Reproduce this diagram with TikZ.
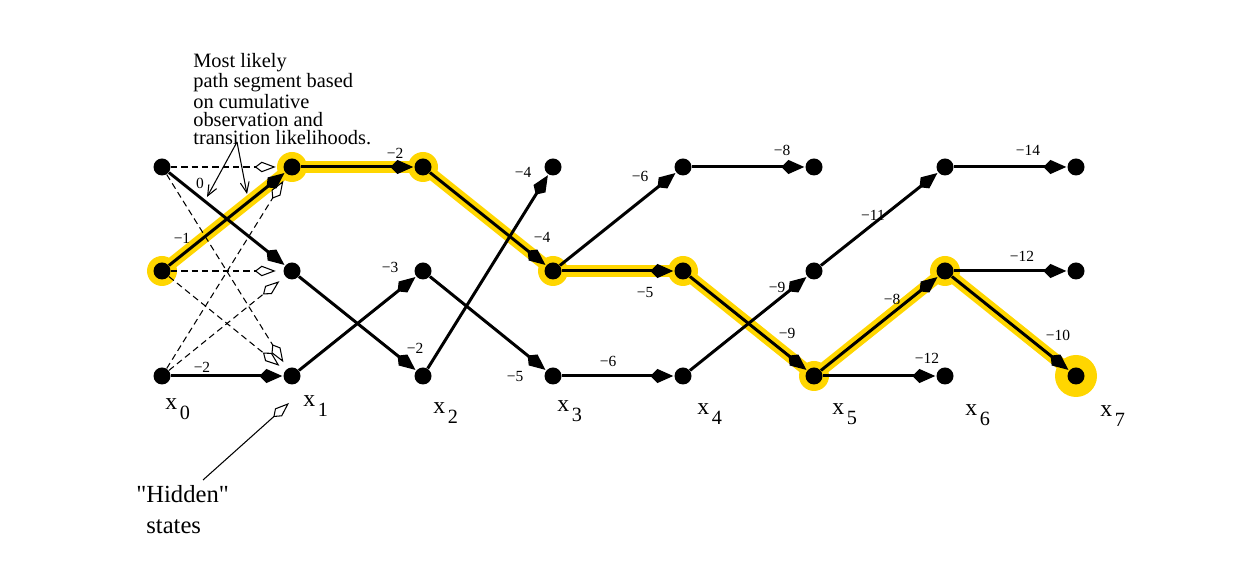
\documentclass[tikz,border=0pt]{standalone}
\usepackage{fontspec}
\setmainfont{Liberation Serif}
\usetikzlibrary{arrows.meta,backgrounds}
\definecolor{gold}{RGB}{255,214,0}
\newcommand{\stage}[1]{x\kern1.5pt\raisebox{-5.5pt}{\fontsize{11.5}{13}\selectfont #1}}
\tikzset{
  state/.style={circle,fill=black,inner sep=0pt,minimum size=0.34cm},
  hop/.style={line width=1.7pt,-{Kite[length=13pt,width=8pt,inset=4pt]},shorten >=0.5pt},
  guess/.style={line width=0.6pt,dash pattern=on 3.6pt off 2.3pt,
    -{Kite[open,length=12pt,width=6pt,inset=4pt]},shorten >=4.2pt},
  pointer/.style={line width=0.6pt},
  best/.style={line width=6.8pt,draw=gold,line join=round},
  cost/.style={font=\fontsize{8.8}{9}\selectfont,inner sep=0pt},
  stagelbl/.style={anchor=base west,inner sep=0pt,font=\fontsize{13.5}{15}\selectfont},
}
\begin{document}
\begin{tikzpicture}
      \useasboundingbox (0,0) rectangle (24.92,11.56);
      % trellis states: t = top, m = middle, b = bottom row
      \draw
        (3.24,8.22) node[state] (t0){}
        (3.24,6.14) node[state] (m0){}
        (3.24,4.04) node[state] (b0){}
        (5.84,8.22) node[state] (t1){}
        (5.84,6.14) node[state] (m1){}
        (5.84,4.04) node[state] (b1){}
        (8.46,8.22) node[state] (t2){}
        (8.46,6.14) node[state] (m2){}
        (8.46,4.04) node[state] (b2){}
        (11.06,8.22) node[state] (t3){}
        (11.06,6.14) node[state] (m3){}
        (11.06,4.04) node[state] (b3){}
        (13.66,8.22) node[state] (t4){}
        (13.66,6.14) node[state] (m4){}
        (13.66,4.04) node[state] (b4){}
        (16.28,8.22) node[state] (t5){}
        (16.28,6.14) node[state] (m5){}
        (16.28,4.04) node[state] (b5){}
        (18.90,8.22) node[state] (t6){}
        (18.90,6.14) node[state] (m6){}
        (18.90,4.04) node[state] (b6){}
        (21.52,8.22) node[state] (t7){}
        (21.52,6.14) node[state] (m7){}
        (21.52,4.04) node[state] (b7){};
      % most likely path
      \begin{scope}[on background layer]
        \draw[best] (m0.center) -- (t1.center) -- (t2.center) -- (m3.center)
          -- (m4.center) -- (b5.center) -- (m6.center) -- (b7.center);
        \fill[gold] (m0) circle (0.30) (t1) circle (0.30) (t2) circle (0.30)
          (m3) circle (0.30) (m4) circle (0.30) (b5) circle (0.30)
          (m6) circle (0.30) (b7) circle (0.42);
      \end{scope}
      \begin{scope}[guess]
        \draw (t0) to (t1);
        \draw (t0) to (b1);
        \draw (m0) to (m1);
        \draw (m0) to (b1);
        \draw (b0) to (t1);
        \draw (b0) to (m1);
      \end{scope}
      \begin{scope}[hop]
        \draw (t0) to (m1);
        \draw (m0) to (t1);
        \draw (b0) to (b1);
        \draw (t1) to (t2);
        \draw (m1) to (b2);
        \draw (b1) to (m2);
        \draw (t2) to (m3);
        \draw (m2) to (b3);
        \draw (b2) to (t3);
        \draw (m3) to (m4);
        \draw (m3) to (t4);
        \draw (b3) to (b4);
        \draw (t4) to (t5);
        \draw (m4) to (b5);
        \draw (b4) to (m5);
        \draw (m5) to (t6);
        \draw (b5) to (m6);
        \draw (b5) to (b6);
        \draw (t6) to (t7);
        \draw (m6) to (m7);
        \draw (m6) to (b7);
      \end{scope}
      % scores
      \draw
        (4.00,7.90) node[cost] (c01){0}
        (3.64,6.80) node[cost] (c02){−1}
        (4.04,4.22) node[cost] (c03){−2}
        (7.90,8.50) node[cost] (c11){−2}
        (7.80,6.22) node[cost] (c12){−3}
        (8.30,4.60) node[cost] (c13){−2}
        (10.46,8.12) node[cost] (c21){−4}
        (10.84,6.82) node[cost] (c22){−4}
        (10.30,4.02) node[cost] (c23){−5}
        (12.80,8.04) node[cost] (c31){−6}
        (12.90,5.70) node[cost] (c32){−5}
        (12.16,4.34) node[cost] (c33){−6}
        (15.64,8.56) node[cost] (c41){−8}
        (15.54,5.82) node[cost] (c42){−9}
        (15.74,4.90) node[cost] (c43){−9}
        (17.46,7.26) node[cost] (c51){−11}
        (17.84,5.58) node[cost] (c52){−8}
        (18.54,4.40) node[cost] (c53){−12}
        (20.56,8.56) node[cost] (c61){−14}
        (20.44,6.44) node[cost] (c62){−12}
        (21.16,4.86) node[cost] (c63){−10};
      % stage labels
      \draw
        (3.30,3.36) node[stagelbl] (lab0){\stage{0}}
        (6.06,3.42) node[stagelbl] (lab1){\stage{1}}
        (8.66,3.28) node[stagelbl] (lab2){\stage{2}}
        (11.14,3.32) node[stagelbl] (lab3){\stage{3}}
        (13.94,3.26) node[stagelbl] (lab4){\stage{4}}
        (16.64,3.26) node[stagelbl] (lab5){\stage{5}}
        (19.30,3.24) node[stagelbl] (lab6){\stage{6}}
        (22.00,3.22) node[stagelbl] (lab7){\stage{7}};
      % notes
      \node (note) [anchor=north west,align=left,inner sep=0pt,font=\fontsize{11.6}{10.4}\selectfont]
        at (3.86,10.50) {Most likely\\path segment based\\on cumulative\\observation and\\transition likelihoods.};
      \coordinate (split) at (4.74,8.72);
      \coordinate (aim1) at (4.14,7.62);
      \coordinate (aim2) at (4.94,7.68);
      \draw[pointer,-{Straight Barb[length=6pt,width=5pt]}] (split) -- (aim1);
      \draw[pointer,-{Straight Barb[length=6pt,width=5pt]}] (split) -- (aim2);
      \node (hidden) [anchor=north west,align=left,inner sep=0pt,font=\fontsize{14}{17.6}\selectfont]
        at (2.72,1.86) {\textquotedbl Hidden\textquotedbl\\\hspace*{5.7pt}states};
      \coordinate (hidfoot) at (4.06,1.96);
      \coordinate (hidtip) at (5.78,3.50);
      \draw[pointer,-{Kite[open,length=12pt,width=6pt,inset=4pt]}] (hidfoot) -- (hidtip);
    \end{tikzpicture}
\end{document}
